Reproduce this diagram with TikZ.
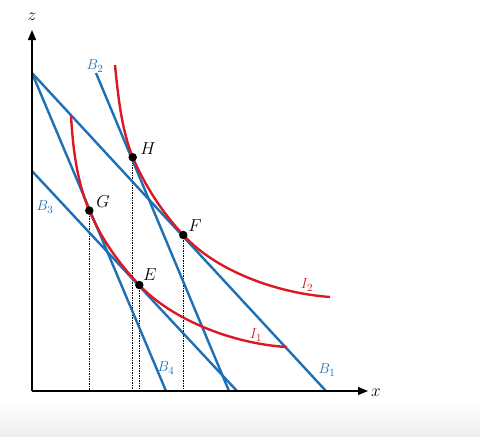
\documentclass[tikz,border=0pt]{standalone}
\usetikzlibrary{arrows.meta}
\definecolor{bline}{RGB}{30,112,182}
\definecolor{rcurve}{RGB}{220,25,35}
\begin{document}
\begin{tikzpicture}[x=1pt,y=-1pt,
  budget/.style={draw=bline,line width=2.4pt},
  indiff/.style={draw=rcurve,line width=2.4pt},
  axis/.style={draw=black,line width=1.3pt,-{Triangle[length=10pt,width=8pt]}},
  proj/.style={draw=black,line width=1.3pt,dash pattern=on 1.5pt off 1pt},
  pt/.style={circle,fill=black,inner sep=0pt,minimum size=8.5pt},
  plab/.style={font=\fontsize{17}{19}\selectfont,inner sep=1pt},
  blab/.style={font=\fontsize{15}{17}\selectfont,text=bline,inner sep=1pt},
  ilab/.style={font=\fontsize{15}{17}\selectfont,text=rcurve,inner sep=1pt}]
\useasboundingbox (0,0) rectangle (480,437);
\shade[top color=white,bottom color=black!7] (0,403) rectangle (480,437);
% coordinates
\coordinate (O) at (32,391);
\coordinate (ztip) at (32,30);
\coordinate (xtip) at (368,391);
\coordinate (A) at (32,73);
\coordinate (B1end) at (326,391);
\coordinate (B2top) at (96,73);
\coordinate (B2end) at (229,391);
\coordinate (B3top) at (32,171);
\coordinate (B3end) at (237,391);
\coordinate (B4end) at (166,391);
\coordinate (Hp) at (132.7,157.3);
\coordinate (Gp) at (89.3,210.5);
\coordinate (Fp) at (183.3,235);
\coordinate (Ep) at (139.3,285);
\coordinate (Hf) at (132.7,391);
\coordinate (Gf) at (89.3,391);
\coordinate (Ff) at (183.3,391);
\coordinate (Ef) at (139.3,391);
% projections
\draw[proj] (Hp) -- (Hf);
\draw[proj] (Gp) -- (Gf);
\draw[proj] (Fp) -- (Ff);
\draw[proj] (Ep) -- (Ef);
% budget lines
\draw[budget] (A) -- (B1end);
\draw[budget] (A) -- (B4end);
\draw[budget] (B2top) -- (B2end);
\draw[budget] (B3top) -- (B3end);
% indifference curves
\draw[indiff] (115,65) .. controls (118,95) and (121.4,129.3) .. (Hp)
  .. controls (145,185.6) and (162,212.2) .. (Fp)
  .. controls (215,270) and (275,293) .. (330,297);
\draw[indiff] (71,116) .. controls (73,148) and (76.6,180.5) .. (Gp)
  .. controls (100.6,237.6) and (118.5,263.2) .. (Ep)
  .. controls (172,320) and (234,344) .. (287,347);
% axes
\draw[axis] (O) -- (ztip);
\draw[axis] (O) -- (xtip);
\node[plab] (zl) at (32,17) {$z$};
\node[plab] (xl) at (376,393) {$x$};
% points
\node[pt] (H) at (Hp) {};
\node[pt] (G) at (Gp) {};
\node[pt] (F) at (Fp) {};
\node[pt] (E) at (Ep) {};
\node[plab] (Hl) at (148,149) {$H$};
\node[plab] (Gl) at (103,202) {$G$};
\node[plab] (Fl) at (195,226) {$F$};
\node[plab] (El) at (150,275) {$E$};
% labels
\node[blab] (B1l) at (327,370) {$B_1$};
\node[blab] (B2l) at (95,66) {$B_2$};
\node[blab] (B3l) at (45,207) {$B_3$};
\node[blab] (B4l) at (166,368) {$B_4$};
\node[ilab] (I1l) at (256,335) {$I_1$};
\node[ilab] (I2l) at (307,285) {$I_2$};
\end{tikzpicture}
\end{document}
